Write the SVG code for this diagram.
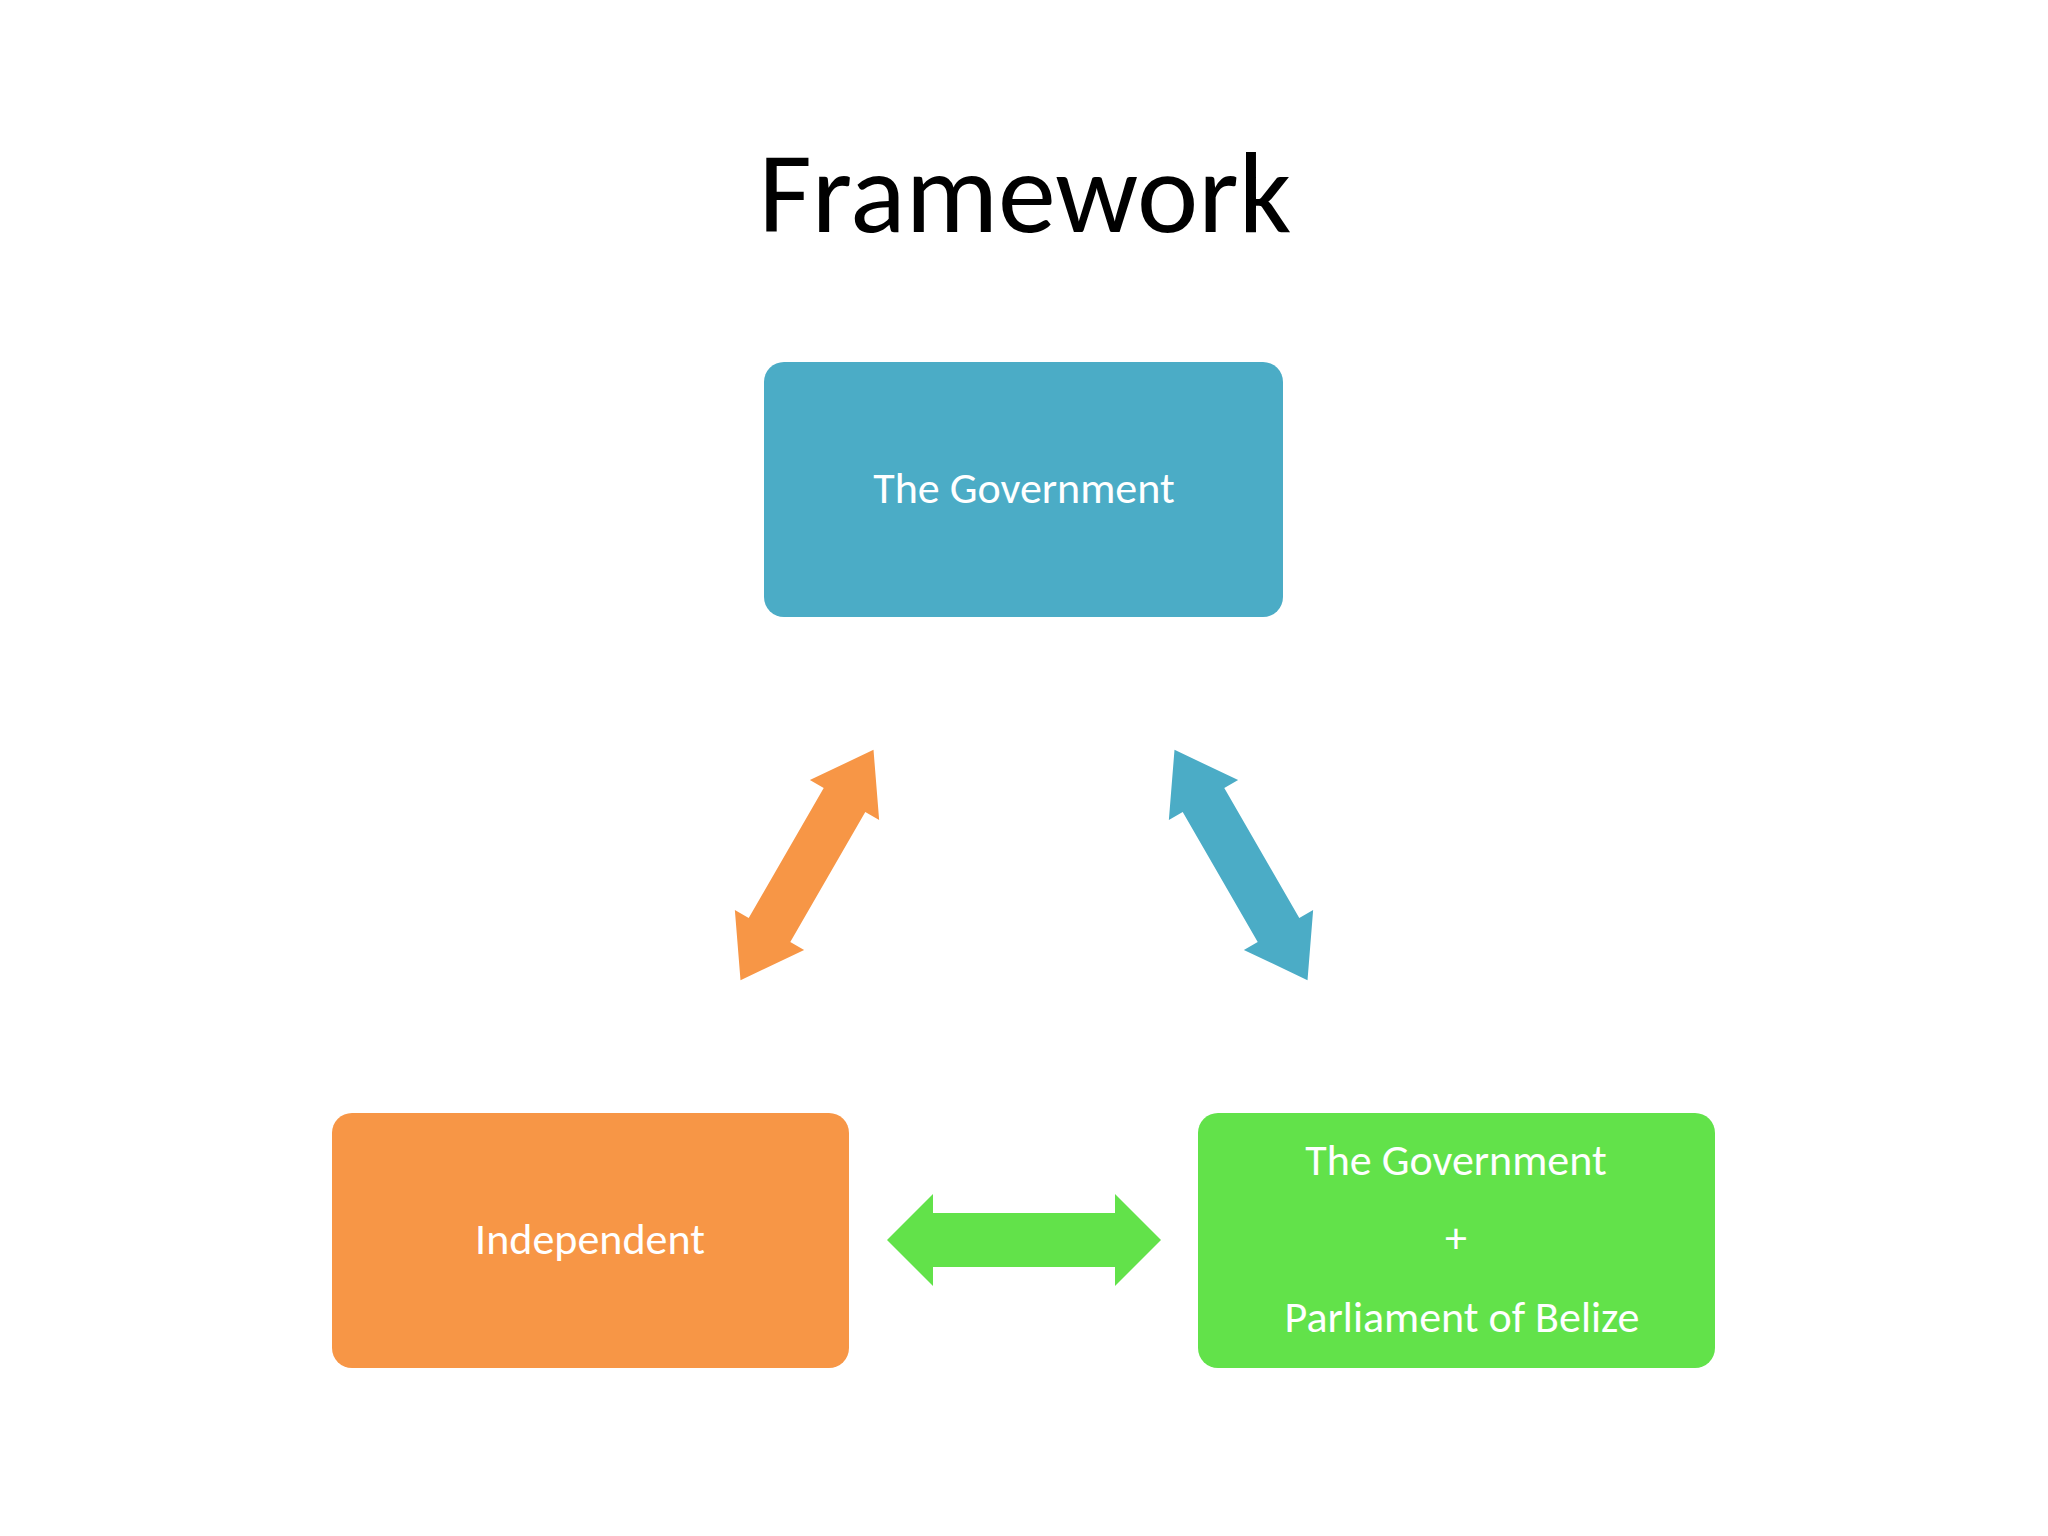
<svg xmlns="http://www.w3.org/2000/svg" width="2048" height="1536" viewBox="0 0 2048 1536">
<style>
.t{font-family:Calibri,"Open Sans","Noto Sans",sans-serif;fill:#fff;font-size:44px;text-anchor:middle}
</style>
<defs>
<polygon id="da" points="-133,0 -75,-40 -75,-24 75,-24 75,-40 133,0 75,40 75,24 -75,24 -75,40"/>
</defs>
<rect width="2048" height="1536" fill="#fff"/>
<text x="1025" y="232" font-family="Calibri,'Open Sans','Noto Sans',sans-serif" font-size="116" text-anchor="middle" fill="#000">Framework</text>
<g id="gov"><rect x="764" y="362" width="519" height="255" rx="20" fill="#4BACC6"/><text class="t" x="1024" y="503">The Government</text></g>
<g id="ind"><rect x="332" y="1113" width="517" height="255" rx="20" fill="#F79646"/><text class="t" x="590" y="1254">Independent</text></g>
<g id="parl"><rect x="1198" y="1113" width="517" height="255" rx="20" fill="#62E24A"/>
<text class="t" x="1456" y="1175">The Government</text><text class="t" x="1456" y="1253">+</text><text class="t" x="1462" y="1332">Parliament  of Belize</text></g>
<g id="connectors">
<use href="#da" transform="translate(807,865) rotate(-60)" fill="#F79646"/>
<use href="#da" transform="translate(1241,865) rotate(60)" fill="#4BACC6"/>
<polygon points="887,1240 933,1194 933,1213 1115,1213 1115,1194 1161,1240 1115,1286 1115,1267 933,1267 933,1286" fill="#62E24A"/>
</g>
</svg>
